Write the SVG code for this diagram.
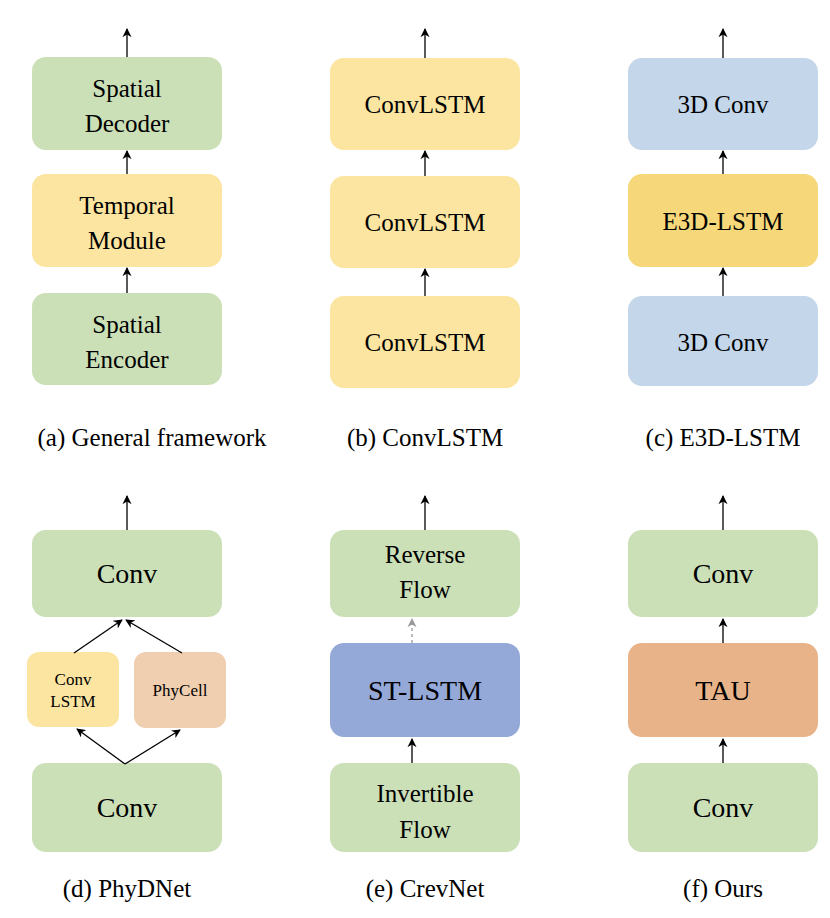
<svg xmlns="http://www.w3.org/2000/svg" width="830" height="918" viewBox="0 0 830 918">
<defs>
<marker id="ah" viewBox="0 0 10 10" refX="9" refY="5" markerWidth="7" markerHeight="7" orient="auto"><path d="M0,0 L10,5 L0,10 L3,5 Z" fill="#000"/></marker>
<marker id="ahg" viewBox="0 0 10 10" refX="9" refY="5" markerWidth="7" markerHeight="7" orient="auto"><path d="M0,0 L10,5 L0,10 L3,5 Z" fill="#999"/></marker>
</defs>
<style>
text{font-family:"Liberation Serif","Times New Roman",serif;font-size:25px;fill:#000;text-anchor:middle}
.s{font-size:17px}
.l{font-size:28px}
.g{fill:#cce0b8}.y{fill:#fbe5a0}.b{fill:#c3d6ea}.o{fill:#f6d87a}.p{fill:#f0ceb0}.st{fill:#95a9d8}.t{fill:#e8b388}
.c line{stroke:#000;stroke-width:1.3;marker-end:url(#ah)}
.c line.d{stroke:#999;stroke-dasharray:3,3;marker-end:url(#ahg)}
</style>
<rect width="830" height="918" fill="#fff"/>
<g id="a1"><rect class="g" x="32" y="57" width="190" height="93" rx="14"/><text x="127" y="97">Spatial</text><text x="127" y="132">Decoder</text></g>
<g id="a2"><rect class="y" x="32" y="174" width="190" height="93" rx="14"/><text x="127" y="214">Temporal</text><text x="127" y="249">Module</text></g>
<g id="a3"><rect class="g" x="32" y="293" width="190" height="92" rx="14"/><text x="127" y="333">Spatial</text><text x="127" y="368">Encoder</text></g>
<g id="b1"><rect class="y" x="330" y="58" width="190" height="92" rx="14"/><text x="425" y="113">ConvLSTM</text></g>
<g id="b2"><rect class="y" x="330" y="176" width="190" height="92" rx="14"/><text x="425" y="231">ConvLSTM</text></g>
<g id="b3"><rect class="y" x="330" y="296" width="190" height="92" rx="14"/><text x="425" y="351">ConvLSTM</text></g>
<g id="c1"><rect class="b" x="628" y="58" width="190" height="92" rx="14"/><text x="723" y="113">3D Conv</text></g>
<g id="c2"><rect class="o" x="628" y="174" width="190" height="93" rx="14"/><text x="723" y="230">E3D-LSTM</text></g>
<g id="c3"><rect class="b" x="628" y="296" width="190" height="90" rx="14"/><text x="723" y="351">3D Conv</text></g>
<g id="d1"><rect class="g" x="32" y="530" width="190" height="87" rx="14"/><text class="l" x="127" y="583">Conv</text></g>
<g id="d2"><rect class="y" x="27" y="652" width="92" height="75" rx="12"/><text class="s" x="73" y="685">Conv</text><text class="s" x="73" y="707">LSTM</text></g>
<g id="d3"><rect class="p" x="134" y="652" width="92" height="76" rx="12"/><text class="s" x="180" y="696">PhyCell</text></g>
<g id="d4"><rect class="g" x="32" y="763" width="190" height="89" rx="14"/><text class="l" x="127" y="817">Conv</text></g>
<g id="e1"><rect class="g" x="330" y="530" width="190" height="87" rx="14"/><text x="425" y="563">Reverse</text><text x="425" y="598">Flow</text></g>
<g id="e2"><rect class="st" x="330" y="643" width="190" height="94" rx="14"/><text class="l" x="425" y="700">ST-LSTM</text></g>
<g id="e3"><rect class="g" x="330" y="763" width="190" height="89" rx="14"/><text x="425" y="802">Invertible</text><text x="425" y="838">Flow</text></g>
<g id="f1"><rect class="g" x="628" y="530" width="190" height="87" rx="14"/><text class="l" x="723" y="583">Conv</text></g>
<g id="f2"><rect class="t" x="628" y="643" width="190" height="94" rx="14"/><text class="l" x="723" y="700">TAU</text></g>
<g id="f3"><rect class="g" x="628" y="763" width="190" height="89" rx="14"/><text class="l" x="723" y="817">Conv</text></g>
<g id="captions">
<text x="152" y="446">(a) General framework</text>
<text x="425" y="446">(b) ConvLSTM</text>
<text x="723" y="446">(c) E3D-LSTM</text>
<text x="127" y="897">(d) PhyDNet</text>
<text x="425" y="897">(e) CrevNet</text>
<text x="723" y="897">(f) Ours</text>
</g>
<g id="connectors" class="c">
<line x1="127" y1="57" x2="127" y2="29"/><line x1="127" y1="174" x2="127" y2="151"/><line x1="127" y1="293" x2="127" y2="268"/>
<line x1="425" y1="58" x2="425" y2="29"/><line x1="425" y1="176" x2="425" y2="151"/><line x1="425" y1="296" x2="425" y2="269"/>
<line x1="723" y1="58" x2="723" y2="29"/><line x1="723" y1="174" x2="723" y2="151"/><line x1="723" y1="296" x2="723" y2="268"/>
<line x1="127" y1="530" x2="127" y2="496"/>
<line x1="74" y1="653" x2="122" y2="620"/><line x1="182" y1="653" x2="126" y2="620"/>
<line x1="125" y1="764" x2="77" y2="729"/><line x1="125" y1="764" x2="180" y2="730"/>
<line x1="425" y1="530" x2="425" y2="496"/><line class="d" x1="412" y1="643" x2="412" y2="619"/><line x1="412" y1="763" x2="412" y2="739"/>
<line x1="723" y1="530" x2="723" y2="496"/><line x1="723" y1="643" x2="723" y2="619"/><line x1="723" y1="763" x2="723" y2="739"/>
</g>
</svg>
